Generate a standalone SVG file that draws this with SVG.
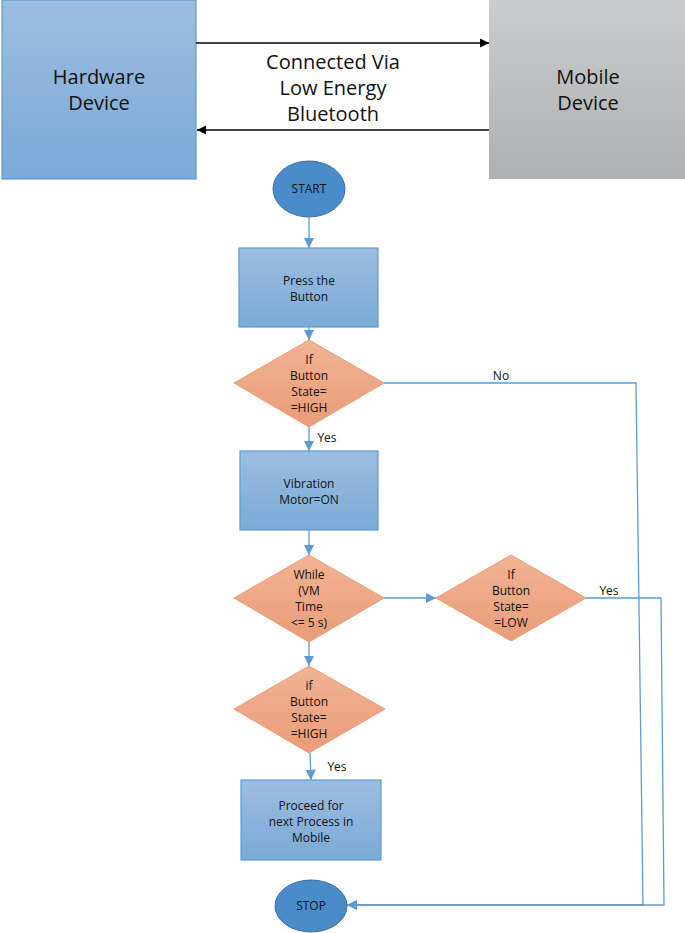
<svg xmlns="http://www.w3.org/2000/svg" width="685" height="933" viewBox="0 0 685 933">
<style>
text{font-family:"Open Sans","Liberation Sans",sans-serif;fill:#111;text-anchor:middle}
.big{font-size:20px}
.sm{font-size:12px}
.box{fill:url(#gb);stroke:#5b9bd5;stroke-width:1.2}
.dia{fill:url(#go);stroke:#ed9b72;stroke-width:1}
.ell{fill:#4a8cc9;stroke:#3a6fa3;stroke-width:1}
.c{fill:none;stroke:#5b9bd5;stroke-width:1.3}
.k{fill:none;stroke:#000;stroke-width:1.3}
</style>
<defs>
<linearGradient id="gb" x1="0" y1="0" x2="0" y2="1"><stop offset="0" stop-color="#9dbde0"/><stop offset="1" stop-color="#7aaad7"/></linearGradient>
<linearGradient id="gg" x1="0" y1="0" x2="0" y2="1"><stop offset="0" stop-color="#cbcccd"/><stop offset="1" stop-color="#aeb0b1"/></linearGradient>
<linearGradient id="go" x1="0" y1="0" x2="0" y2="1"><stop offset="0" stop-color="#f1b394"/><stop offset="1" stop-color="#e99c78"/></linearGradient>
<marker id="ab" viewBox="0 0 10 10" refX="10" refY="5" markerWidth="8" markerHeight="8" orient="auto"><path d="M0,0L10,5L0,10z" fill="#5b9bd5"/></marker>
<marker id="ak" viewBox="0 0 10 10" refX="10" refY="5" markerWidth="7" markerHeight="7" orient="auto"><path d="M0,0L10,5L0,10z" fill="#000"/></marker>
</defs>
<g id="hardware"><rect x="2" y="0" width="194" height="179" class="box"/><text class="big" x="99" y="84">Hardware</text><text class="big" x="99" y="110">Device</text></g>
<g id="mobile"><rect x="489" y="0" width="196" height="179" fill="url(#gg)"/><text class="big" x="588" y="84">Mobile</text><text class="big" x="588" y="110">Device</text></g>
<g id="ble-label"><text class="big" x="333" y="69">Connected Via</text><text class="big" x="333" y="95">Low Energy</text><text class="big" x="333" y="121">Bluetooth</text></g>
<g id="start"><ellipse cx="309" cy="189" rx="36" ry="28" class="ell"/><text class="sm" x="309" y="193">START</text></g>
<g id="press"><rect x="239" y="248" width="139" height="79" class="box"/><text class="sm" x="309" y="285">Press the</text><text class="sm" x="309" y="301">Button</text></g>
<g id="d1"><polygon points="309,340 384,383 309,427 234,383" class="dia"/><text class="sm" x="309" y="364">If</text><text class="sm" x="309" y="380">Button</text><text class="sm" x="309" y="396">State=</text><text class="sm" x="309" y="412">=HIGH</text></g>
<g id="vib"><rect x="240" y="451" width="138" height="79" class="box"/><text class="sm" x="309" y="488">Vibration</text><text class="sm" x="309" y="504">Motor=ON</text></g>
<g id="d2"><polygon points="309,555 384,598 309,642 234,598" class="dia"/><text class="sm" x="309" y="579">While</text><text class="sm" x="309" y="595">(VM</text><text class="sm" x="309" y="611">Time</text><text class="sm" x="309" y="627">&lt;= 5 s)</text></g>
<g id="d3"><polygon points="511,555 586,598 511,641 436,598" class="dia"/><text class="sm" x="511" y="579">If</text><text class="sm" x="511" y="595">Button</text><text class="sm" x="511" y="611">State=</text><text class="sm" x="511" y="627">=LOW</text></g>
<g id="d4"><polygon points="309,666 385,709 309,753 234,709" class="dia"/><text class="sm" x="309" y="690">if</text><text class="sm" x="309" y="706">Button</text><text class="sm" x="309" y="722">State=</text><text class="sm" x="309" y="738">=HIGH</text></g>
<g id="proceed"><rect x="241" y="780" width="140" height="80" class="box"/><text class="sm" x="311" y="810">Proceed for</text><text class="sm" x="311" y="826">next Process in</text><text class="sm" x="311" y="842">Mobile</text></g>
<g id="stop"><ellipse cx="311" cy="906" rx="36" ry="26" class="ell"/><text class="sm" x="311" y="910">STOP</text></g>
<g id="connectors">
<line x1="196" y1="43" x2="489" y2="43" class="k" marker-end="url(#ak)"/>
<line x1="489" y1="130" x2="197" y2="130" class="k" marker-end="url(#ak)"/>
<line x1="309" y1="217" x2="309" y2="248" class="c" marker-end="url(#ab)"/>
<line x1="309" y1="327" x2="309" y2="340" class="c" marker-end="url(#ab)"/>
<line x1="309" y1="427" x2="309" y2="451" class="c" marker-end="url(#ab)"/>
<line x1="309" y1="530" x2="309" y2="555" class="c" marker-end="url(#ab)"/>
<line x1="384" y1="598" x2="436" y2="598" class="c" marker-end="url(#ab)"/>
<line x1="309" y1="642" x2="309" y2="666" class="c" marker-end="url(#ab)"/>
<line x1="310" y1="753" x2="311" y2="780" class="c" marker-end="url(#ab)"/>
<polyline points="384,383 636,383 643,905 347,905" class="c" marker-end="url(#ab)"/>
<polyline points="586,598 661,598 664,905 347,905" class="c" marker-end="url(#ab)"/>
<text class="sm" x="501" y="380">No</text>
<text class="sm" x="327" y="442">Yes</text>
<text class="sm" x="609" y="595">Yes</text>
<text class="sm" x="337" y="771">Yes</text>
</g>
</svg>
